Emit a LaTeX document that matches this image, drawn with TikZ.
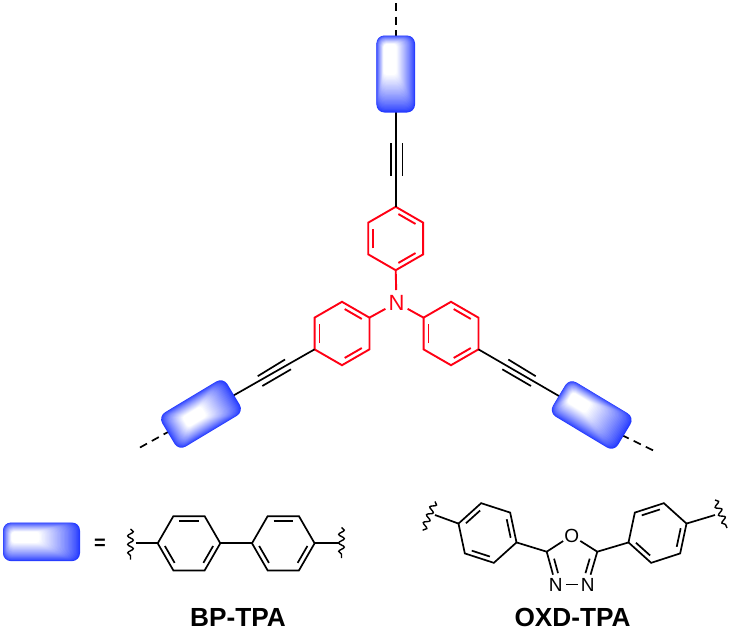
\documentclass[tikz,border=0pt]{standalone}
\usepackage{fontspec}
\setmainfont{Liberation Sans}
\usetikzlibrary{calc,decorations.pathmorphing}
\definecolor{capblue}{RGB}{36,58,255}
\definecolor{tpared}{RGB}{255,0,20}
\tikzset{
  redbond/.style={draw=tpared,line width=1.9pt,line join=miter},
  blackbond/.style={draw=black,line width=1.7pt,line join=miter},
  dashbond/.style={draw=black,line width=1.7pt,dash pattern=on 8pt off 5.5pt},
  wavy/.style={draw=black,line width=1.4pt,decorate,decoration={snake,segment length=8.5pt,amplitude=2.8pt}},
  atomN/.style={circle,inner sep=0pt,minimum size=25pt,text=tpared,font=\fontsize{22}{22}\selectfont},
  atomB/.style={circle,inner sep=0pt,minimum size=20pt,text=black,font=\fontsize{19}{19}\selectfont},
  title/.style={inner sep=0pt,font=\fontsize{26.2}{28}\selectfont\bfseries},
}
% name, cx, cy, R, start angle, style
\newcommand\ringat[6]{%
  \coordinate (#1c) at (#2,#3);
  \foreach \k in {1,...,6}{%
    \pgfmathsetmacro\ang{#5+60*(\k-1)}
    \coordinate (#1\k) at ({#2+#4*cos(\ang)},{#3+#4*sin(\ang)});
  }
  \draw[#6] (#11) -- (#12) -- (#13) -- (#14) -- (#15) -- (#16) -- cycle;
}
\newcommand\innerbond[4]{%
  \draw[#4] ($(#1#2)!.12!(#1#3)!.18!(#1c)$) -- ($(#1#3)!.12!(#1#2)!.18!(#1c)$);
}
% cx, cy, angle(clockwise), half w, half h, inner x0,x1,y0,y1
\newcommand\capsule[9]{%
  \begin{scope}[shift={(#1,#2)},rotate=-#3]
    \foreach \s in {0,...,30}{%
      \pgfmathsetmacro\t{\s/30}
      \pgfmathsetmacro\xa{-#4+\t*(#6+#4)}
      \pgfmathsetmacro\xb{#4+\t*(#7-#4)}
      \pgfmathsetmacro\ya{-#5+\t*(#8+#5)}
      \pgfmathsetmacro\yb{#5+\t*(#9-#5)}
      \pgfmathsetmacro\rr{8-5*\t}
      \pgfmathsetmacro\pc{100*pow(\t,0.8)}
      \fill[white!\pc!capblue,rounded corners=\rr pt] (\xa,\ya) rectangle (\xb,\yb);
    }
  \end{scope}
}
\begin{document}
\begin{tikzpicture}[x=1pt,y=-1pt]
\useasboundingbox (0,0) rectangle (731,632);
\fill[white] (0,0) rectangle (731,632);

% ---- triphenylamine core
\ringat{T}{395.7}{238.5}{31.7}{-90}{redbond}
\ringat{R}{451}{333.5}{31.7}{-90}{redbond}
\ringat{L}{342}{333.5}{31.7}{-90}{redbond}
\foreach \rn in {T,R,L}{
  \innerbond{\rn}{1}{2}{redbond}
  \innerbond{\rn}{3}{4}{redbond}
  \innerbond{\rn}{5}{6}{redbond}
}
\node[atomN] (N) at (396.5,302.7) {N};
\draw[redbond] (N) -- (T4);
\draw[redbond] (N) -- (L2);
\draw[redbond] (N) -- (R6);

% ---- arm anchors
\coordinate (capTc) at (395.7,74);
\coordinate (capLc) at (201,414);
\coordinate (capRc) at (591.7,415);
\coordinate (capTout) at (395.7,36);
\coordinate (capLout) at (168,432);
\coordinate (capRout) at (623,435.7);
\coordinate (freeT) at (395.7,3);
\coordinate (freeL) at (140,447.5);
\coordinate (freeR) at (653,450.3);

% ---- alkynes
\draw[blackbond] (T1) -- (capTc);
\draw[blackbond] (L5) -- (capLc);
\draw[blackbond] (R3) -- (capRc);
\coordinate (ta1) at (390.8,143); \coordinate (ta2) at (390.8,175.5);
\coordinate (tb1) at (402.4,143); \coordinate (tb2) at (402.4,175.5);
\draw[blackbond] (ta1) -- (ta2);
\draw[blackbond] (tb1) -- (tb2);
\coordinate (la1) at (257.7,376.2); \coordinate (la2) at (285,359.5);
\coordinate (lb1) at (262.3,386); \coordinate (lb2) at (291,369.3);
\draw[blackbond] (la1) -- (la2);
\draw[blackbond] (lb1) -- (lb2);
\coordinate (ra1) at (508.3,359.5); \coordinate (ra2) at (535.7,376.2);
\coordinate (rb1) at (502.3,369.3); \coordinate (rb2) at (531,386);
\draw[blackbond] (ra1) -- (ra2);
\draw[blackbond] (rb1) -- (rb2);

% ---- dashed continuation
\draw[blackbond] (capTc) -- (capTout);
\draw[blackbond] (capLc) -- (capLout);
\draw[blackbond] (capRc) -- (capRout);
\draw[dashbond] (freeT) -- (capTout);
\draw[dashbond] (freeL) -- (capLout);
\draw[dashbond] (freeR) -- (capRout);

% ---- capsules
\capsule{395.7}{74}{0}{19.3}{38.5}{-12}{1}{-30}{1}
\capsule{201}{414}{-31}{38}{20}{-18}{4}{-7}{5}
\capsule{591.7}{415}{31}{38}{20}{-28}{-6}{-10}{2}
\capsule{41.5}{541.8}{0}{38.5}{19.3}{-30}{-2}{-10}{1}

% ---- legend: =
\node[inner sep=0pt,font=\fontsize{20}{20}\selectfont\bfseries] (eq) at (100,544.5) {=};

% ---- biphenyl
\ringat{A}{189}{543.3}{31.3}{0}{blackbond}
\ringat{B}{283.3}{543.3}{31.3}{0}{blackbond}
\foreach \rn in {A,B}{
  \innerbond{\rn}{5}{6}{blackbond}
  \innerbond{\rn}{1}{2}{blackbond}
  \innerbond{\rn}{3}{4}{blackbond}
}
\draw[blackbond] (A1) -- (B4);
\coordinate (wl) at (135.5,543.3);
\coordinate (wr) at (338.5,543.3);
\coordinate (wl1) at (130.5,529); \coordinate (wl2) at (130.5,559.5);
\coordinate (wr1) at (341.5,527.5); \coordinate (wr2) at (341.5,558);
\draw[blackbond] (wl) -- (A4);
\draw[blackbond] (B1) -- (wr);
\draw[wavy] (wl1) -- (wl2);
\draw[wavy] (wr1) -- (wr2);

% ---- OXD
\ringat{P}{487.5}{533}{30.5}{18}{blackbond}
\ringat{Q}{657.5}{533}{30.5}{162}{blackbond}
\innerbond{P}{4}{5}{blackbond}
\innerbond{P}{6}{1}{blackbond}
\innerbond{P}{2}{3}{blackbond}
\innerbond{Q}{2}{3}{blackbond}
\innerbond{Q}{4}{5}{blackbond}
\innerbond{Q}{6}{1}{blackbond}
\coordinate (CL) at (546.7,551.7);
\coordinate (CR) at (597.3,551.7);
\coordinate (oxc) at (571.7,560);
\node[atomB] (O) at (571.7,535.5) {O};
\node[atomB] (NL) at (555.7,584.5) {N};
\node[atomB] (NR) at (587.7,584.5) {N};
\draw[blackbond] (P1) -- (CL);
\draw[blackbond] (Q1) -- (CR);
\draw[blackbond] (CL) -- (O);
\draw[blackbond] (O) -- (CR);
\draw[blackbond] (CL) -- (NL);
\draw[blackbond] (CR) -- (NR);
\draw[blackbond] (NL) -- (NR);
\coordinate (dl1) at ($(CL)!.2!(NL)!.24!(oxc)$);
\coordinate (dl2) at ($(CL)!.78!(NL)!.24!(oxc)$);
\coordinate (dr1) at ($(CR)!.2!(NR)!.24!(oxc)$);
\coordinate (dr2) at ($(CR)!.78!(NR)!.24!(oxc)$);
\draw[blackbond] (dl1) -- (dl2);
\draw[blackbond] (dr1) -- (dr2);
\coordinate (sl) at (435,515);
\coordinate (sr) at (715,515);
\coordinate (sl1) at (435,501.5); \coordinate (sl2) at (423,530.5);
\coordinate (sr1) at (715,500); \coordinate (sr2) at (727,528);
\draw[blackbond] (sl) -- (P4);
\draw[blackbond] (Q4) -- (sr);
\draw[wavy] (sl1) -- (sl2);
\draw[wavy] (sr1) -- (sr2);

% ---- titles
\node[title] (bp) at (238,617.5) {BP-TPA};
\node[title] (ox) at (572.5,617.5) {OXD-TPA};
\end{tikzpicture}
\end{document}
